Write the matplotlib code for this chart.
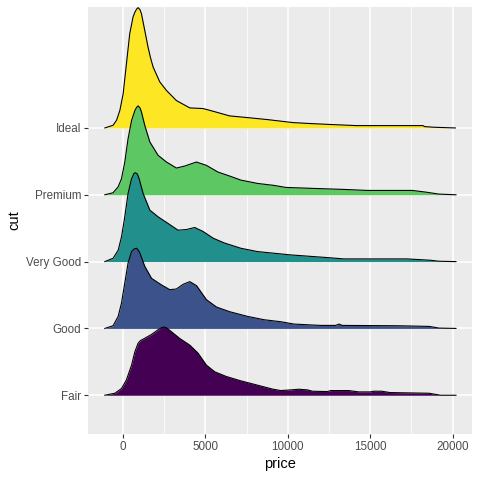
import matplotlib
matplotlib.use("Agg")
import matplotlib.pyplot as plt
import numpy as np

plt.rcParams['font.family'] = ['Liberation Sans', 'DejaVu Sans']

# Categories (bottom to top) and viridis colours
cuts = ["Fair", "Good", "Very Good", "Premium", "Ideal"]
cut_colors = ["#440154", "#3B528B", "#21908C", "#5DC863", "#FDE725"]

# Ridge heights (in units of one row spacing)
fair_price = [-1090, -480, -80, 220, 530, 730, 930, 1080, 1240, 1740, 2140, 2340,
              2490, 2640, 2850, 3450, 4060, 4560, 5070, 5580, 6280, 7090, 8100,
              9110, 9580, 10180, 10680, 11200, 11500, 12400, 12600, 13700, 14300,
              15000, 15200, 15700, 16200, 18560, 19270, 20200]
fair_dens = [0, 0.03, 0.10, 0.23, 0.45, 0.65, 0.78, 0.82, 0.84, 0.91, 0.98, 1.01,
             1.02, 1.01, 0.97, 0.85, 0.75, 0.63, 0.45, 0.35, 0.28, 0.22, 0.155,
             0.09, 0.07, 0.08, 0.09, 0.08, 0.06, 0.055, 0.07, 0.07, 0.05,
             0.05, 0.06, 0.06, 0.04, 0.03, 0.0, 0]

good_price = [-1090, -590, -280, -80, 120, 320, 530, 690, 830, 940, 1030, 1330,
              1740, 2350, 2850, 3250, 3660, 4060, 4470, 5070, 5680, 6480, 7560,
              8560, 9580, 10380, 12000, 12900, 13110, 13300, 16650, 18580, 19170,
              20200]
good_dens = [0, 0.04, 0.18, 0.38, 0.68, 0.98, 1.15, 1.19, 1.20, 1.17, 1.13, 0.93,
             0.75, 0.65, 0.58, 0.59, 0.66, 0.70, 0.64, 0.43, 0.32, 0.25, 0.18,
             0.13, 0.10, 0.065, 0.045, 0.045, 0.065, 0.045, 0.04, 0.03, 0.005, 0]

vgood_price = [-1090, -590, -280, -80, 120, 320, 530, 680, 770, 880, 990, 1230,
               1640, 2140, 2750, 3350, 3860, 4360, 4870, 5480, 6140, 7150, 8160,
               9170, 10180, 12400, 13410, 17250, 18660, 19170, 20200]
vgood_dens = [0, 0.05, 0.17, 0.37, 0.67, 1.02, 1.24, 1.32, 1.33, 1.31, 1.24, 1.02,
              0.77, 0.67, 0.57, 0.47, 0.48, 0.51, 0.45, 0.35, 0.28, 0.20, 0.15,
              0.125, 0.10, 0.06, 0.04, 0.04, 0.02, 0.005, 0]

premium_price = [-1090, -590, -280, -80, 120, 320, 530, 730, 840, 930, 1040, 1130,
                 1330, 1640, 2140, 2650, 3250, 3760, 4460, 5070, 5770, 6480, 7150,
                 8160, 9170, 9880, 11590, 13410, 14820, 17550, 18360, 19170, 20200]
premium_dens = [0, 0.03, 0.12, 0.24, 0.49, 0.84, 1.11, 1.26, 1.31, 1.33, 1.30, 1.24,
                1.04, 0.79, 0.59, 0.49, 0.40, 0.43, 0.49, 0.44, 0.34, 0.28, 0.22,
                0.17, 0.14, 0.11, 0.095, 0.08, 0.065, 0.065, 0.04, 0.01, 0]

ideal_price = [-1090, -590, -380, -180, 20, 220, 420, 620, 730, 840, 930, 1040,
               1130, 1330, 1530, 1680, 1840, 2240, 2650, 3250, 4060, 4870, 5470,
               6480, 7560, 8770, 10320, 11440, 12750, 14160, 15580, 18200, 18300,
               18900, 20160]
ideal_dens = [0, 0.04, 0.115, 0.26, 0.51, 0.96, 1.41, 1.66, 1.73, 1.78, 1.80, 1.77,
              1.71, 1.46, 1.21, 1.05, 0.91, 0.69, 0.56, 0.41, 0.30, 0.29, 0.25,
              0.18, 0.155, 0.125, 0.08, 0.065, 0.05, 0.035, 0.035, 0.035, 0.02,
              0.01, 0]

ridges = [(fair_price, fair_dens), (good_price, good_dens), (vgood_price, vgood_dens),
          (premium_price, premium_dens), (ideal_price, ideal_dens)]

x_major = [0, 5000, 10000, 15000, 20000]
x_minor = [2500, 7500, 12500, 17500]

fig = plt.figure(figsize=(4.8, 4.8), dpi=100)
ax = fig.add_axes([88/480, 1 - 434/480, (472 - 88)/480, (434 - 7)/480])
ax.set_facecolor("#EBEBEB")

# grille facon ggplot
for v in x_minor:
    ax.axvline(v, color="white", lw=0.55, zorder=0)
for v in x_major:
    ax.axvline(v, color="white", lw=1.1, zorder=0)
for i in range(len(cuts)):
    ax.axhline(i + 1, color="white", lw=1.1, zorder=0)

# les crêtes, du haut vers le bas pour que les plus basses passent devant
for i in reversed(range(len(cuts))):
    px, d = ridges[i]
    base = i + 1
    top = base + np.array(d)
    z = 10 - i
    ax.fill_between(px, base, top, color=cut_colors[i], lw=0, zorder=z)
    ax.plot(px, top, color="black", lw=0.8, zorder=z + 0.5)

ax.set_xlim(-2110, 21170)
ax.set_ylim(0.42, 6.81)
ax.set_xticks(x_major)
ax.set_xticklabels([str(v) for v in x_major])
ax.set_yticks(range(1, len(cuts) + 1))
ax.set_yticklabels(cuts)

for s in ax.spines.values():
    s.set_visible(False)
ax.tick_params(axis="both", length=3, width=0.8, color="#333333",
               labelcolor="#4D4D4D", labelsize=8.4, pad=2)

ax.set_xlabel("price", fontsize=10.5, color="black", labelpad=3)
ax.set_ylabel("cut", fontsize=10.5, color="black", labelpad=3)

fig.savefig("out.png", dpi=100)
